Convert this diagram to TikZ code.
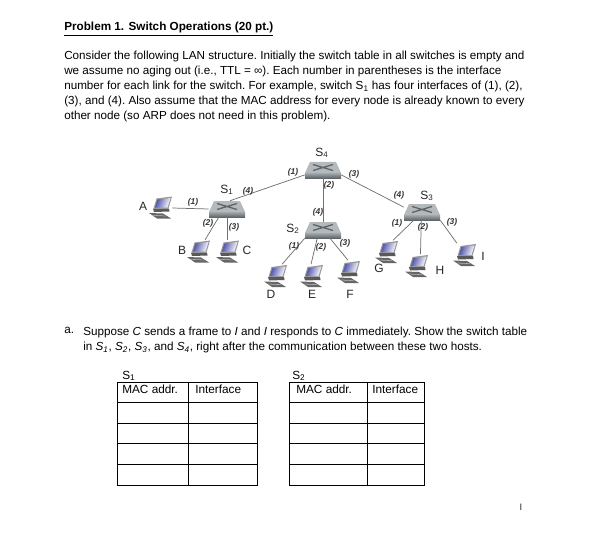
\documentclass[tikz,border=0pt]{standalone}
\usepackage{fontspec}
\setmainfont{Liberation Sans}
\definecolor{linkgray}{HTML}{707070}
\definecolor{swgray}{HTML}{B4B9BC}
\definecolor{swdark}{HTML}{5F6669}
\definecolor{screenblue}{HTML}{4A4FA8}
\usetikzlibrary{positioning,calc}
\tikzset{
  paratext/.style={anchor=north west, inner sep=0pt, align=left,
    font=\frenchspacing\fontsize{8.76pt}{11.25pt}\selectfont},
  namelabel/.style={inner sep=0pt, font=\fontsize{9pt}{11pt}\selectfont, text=black!85},
  iflabel/.style={inner sep=0pt, font=\fontsize{6.3pt}{8pt}\selectfont\bfseries\itshape, text=black!80},
  celltext/.style={anchor=base west, inner sep=0pt, font=\fontsize{8.85pt}{11pt}\selectfont},
  link/.style={draw=linkgray, line width=0.55pt},
  swbox/.style={rectangle, inner sep=0pt, minimum width=27pt, minimum height=12pt,
    path picture={
      \begin{scope}[shift={(path picture bounding box.center)}]
        \fill[swgray] (-13,-8) -- (13,-8) -- (18,3) -- (-18,3) -- cycle;
        \shade[top color=swgray!80!swdark, bottom color=swdark] (-18,3) rectangle (18,8);
        \draw[swdark, line width=1pt] (-10,-5.5) -- (10,0.5) (10,-5.5) -- (-10,0.5);
      \end{scope}
    }},
  hostpc/.style={rectangle, inner sep=0pt, minimum width=18pt, minimum height=18pt,
    path picture={
      \begin{scope}[shift={(path picture bounding box.center)}]
        \fill[black!40] (-3.5,-9.5) -- (12,-11.5) -- (8.5,0.5) -- (-6.5,0.5) -- cycle;
        \shade[left color=screenblue, right color=white, shading angle=70]
          (-2.5,-8.5) -- (10.5,-10) -- (7.5,-0.5) -- (-5,-0.5) -- cycle;
        \fill[black!65] (-7,0.5) -- (9,0.5) -- (9.5,3.5) -- (-6,4) -- cycle;
        \fill[black!60] (-11,5) -- (3,5.5) -- (11,10.5) -- (-3,10.5) -- cycle;
        \draw[white, line width=0.2pt] (-7,7.5) -- (6,8);
      \end{scope}
    }}
}
\begin{document}
\begin{tikzpicture}[x=0.75pt, y=-0.75pt]
  \useasboundingbox (0,0) rectangle (605,545);
  \fill[white] (0,0) rectangle (605,545);
  % text above the network
  \node[paratext, font=\fontsize{8.8pt}{11pt}\selectfont\bfseries] (title) at (64,22)
    {\underline{Problem 1. Switch Operations (20 pt.)}};
  \node[paratext] (intro) at (64,51)
    {Consider the following LAN structure. Initially the switch table in all switches is empty and\\
     we assume no aging out (i.e., TTL = ∞). Each number in parentheses is the interface\\
     number for each link for the switch. For example, switch S\textsubscript{1} has four interfaces of (1), (2),\\
     (3), and (4). Also assume that the MAC address for every node is already known to every\\
     other node (so ARP does not need in this problem).};
  % switches
  \node[swbox] (s1) at (227,209) {};
  \node[swbox] (s2) at (323,230) {};
  \node[swbox] (s3) at (422,212) {};
  \node[swbox] (s4) at (323,170) {};
  % hosts
  \node[hostpc] (a) at (160,208) {};
  \node[hostpc] (b) at (198,252) {};
  \node[hostpc] (c) at (227,252) {};
  \node[hostpc] (d) at (275,276.5) {};
  \node[hostpc] (e) at (311,276.5) {};
  \node[hostpc] (f) at (348,272.5) {};
  \node[hostpc] (g) at (386,252.5) {};
  \node[hostpc] (h) at (416,266.5) {};
  \node[hostpc] (i) at (464,255.5) {};
  % links
  \draw[link] (a.east) -- (s1.west);
  \draw[link] (b.60) -- (s1.225);
  \draw[link] (c.north) -- (s1.south);
  \draw[link] (s1.70) -- (s4.195);
  \draw[link] (s4.south) -- (s2.north);
  \draw[link] (s4.-15) -- (s3.165);
  \draw[link] (d.60) -- (s2.south west);
  \draw[link] (e.north) -- (s2.235);
  \draw[link] (f.north) -- (s2.-50);
  \draw[link] (g.60) -- (s3.225);
  \draw[link] (h.70) -- (s3.265);
  \draw[link] (i.120) -- (s3.south east);
  % names
  \node[namelabel] (la) at (143,206) {A};
  \node[namelabel] (lb) at (182,250) {B};
  \node[namelabel] (lc) at (247,250) {C};
  \node[namelabel] (ld) at (271,294) {D};
  \node[namelabel] (le) at (312,294) {E};
  \node[namelabel] (lf) at (350,294) {F};
  \node[namelabel] (lg) at (379,268) {G};
  \node[namelabel] (lh) at (440,270) {H};
  \node[namelabel] (li) at (483,256) {I};
  \node[namelabel] (ls1) at (227,190) {S\textsubscript{1}};
  \node[namelabel] (ls2) at (293,229) {S\textsubscript{2}};
  \node[namelabel] (ls3) at (427,196) {S\textsubscript{3}};
  \node[namelabel] (ls4) at (322,153) {S\textsubscript{4}};
  % interface numbers
  \node[iflabel] (p1) at (193,202) {(1)};
  \node[iflabel] (p2) at (208,223) {(2)};
  \node[iflabel] (p3) at (234,227) {(3)};
  \node[iflabel] (p4) at (248,191) {(4)};
  \node[iflabel] (p5) at (293,172) {(1)};
  \node[iflabel] (p6) at (329,185) {(2)};
  \node[iflabel] (p7) at (354,174) {(3)};
  \node[iflabel] (p8) at (318,212) {(4)};
  \node[iflabel] (p9) at (294,246) {(1)};
  \node[iflabel] (p10) at (321,247) {(2)};
  \node[iflabel] (p11) at (345,243) {(3)};
  \node[iflabel] (p12) at (399,195) {(4)};
  \node[iflabel] (p13) at (397,223) {(1)};
  \node[iflabel] (p14) at (423,227) {(2)};
  \node[iflabel] (p15) at (452,222) {(3)};
  % question
  \node[paratext] (qa) at (64,327) {a.};
  \node[paratext] (qtext) at (83,327)
    {Suppose \textit{C} sends a frame to \textit{I} and \textit{I} responds to \textit{C} immediately. Show the switch table\\
     in \textit{S\textsubscript{1}}, \textit{S\textsubscript{2}}, \textit{S\textsubscript{3}}, and \textit{S\textsubscript{4}}, right after the communication between these two hosts.};
  % switch tables
  \node[celltext] (t1) at (122,379) {S\textsubscript{1}};
  \node[celltext] (t2) at (292,379) {S\textsubscript{2}}; 
  \node[celltext] (t1a) at (122,393) {MAC addr.};
  \node[celltext] (t1b) at (195,393) {Interface};
  \node[celltext] (t2a) at (296,393) {MAC addr.};
  \node[celltext] (t2b) at (372,393) {Interface};
  \foreach \xa/\xb/\xc in {117/188/257, 289/367/424} {
    \foreach \ya/\yb in {382/402, 402/423, 423/443, 443/464, 464/485} {
      \draw[line width=0.6pt] (\xa,\ya) rectangle (\xb,\yb);
      \draw[line width=0.6pt] (\xb,\ya) rectangle (\xc,\yb);
    }
  }
  \node[namelabel, font=\fontsize{7pt}{8pt}\selectfont] (mark) at (521,507) {I};
\end{tikzpicture}
\end{document}
